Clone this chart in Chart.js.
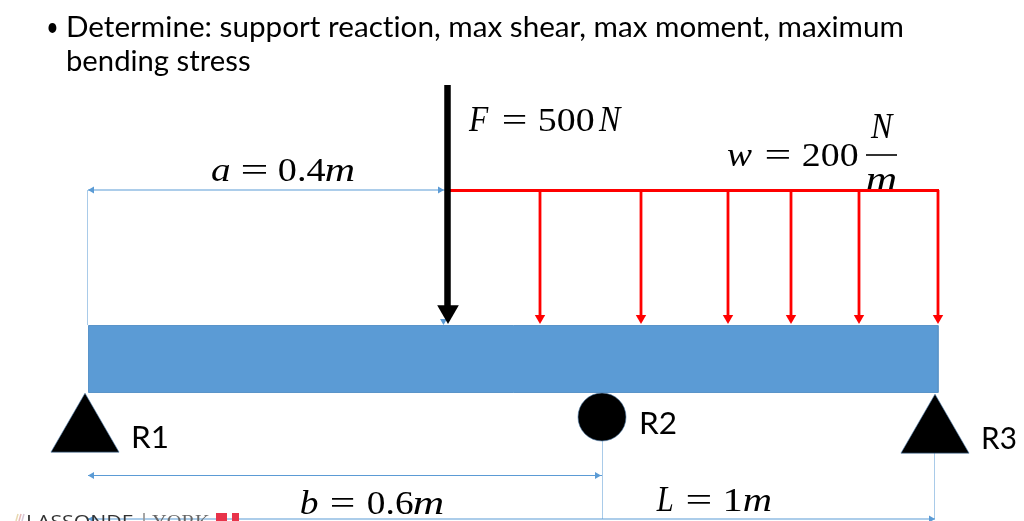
<!DOCTYPE html>
<html><head><meta charset="utf-8">
<style>html,body{margin:0;padding:0;background:#fff;overflow:hidden}canvas{display:block}</style>
<script src="https://cdn.jsdelivr.net/npm/chart.js@4"></script>
</head><body><canvas id="c" width="1024" height="521"></canvas>
<script>
// Positions, in diagram units
const beamX = [88.5, 938, 938, 88.5, 88.5];
const beamY = [325.5, 325.5, 392.5, 392.5, 325.5];
const forceX = [447.5, 447.5];
const forceY = [85, 310];
const forceHeadX = [448];
const forceHeadY = [311.5];
const loadLineX = [447, 939];
const loadLineY = [190.5, 190.5];
const loadArrowX = [540, 641, 728, 791, 859, 938];
const loadArrowTop = [190, 190, 190, 190, 190, 190];
const loadArrowBottom = [318, 318, 318, 318, 318, 318];
const triangleX = [85, 935];
const triangleY = [432.5, 433.5];
const rollerX = [602];
const rollerY = [417];
const dimAX = [88, 445];
const dimAY = [190, 190];
const dimBX = [88, 602];
const dimBY = [475.5, 475.5];
const dimLX = [88, 935];
const dimLY = [519, 519];
const extX = [87.5, 602.5, 934.5];
const extTop = [190, 441, 453];
const extBottom = [325, 519, 519];
const dimLeftHeadX = [92, 92, 92];
const dimLeftHeadY = [190, 475.5, 519];
const dimRightHeadX = [440, 597, 931];
const dimRightHeadY = [190, 475.5, 519];
const fracBarX = [866, 897];
const fracBarY = [155, 155];
const logoRedX = [221.5, 235.5];
const logoRedW = [11, 7];
const logoSepX = [144, 144];
const logoSepY = [513, 521];
const logoMarkX = [16, 19, 22];
const logoMarkColors = ['#e8d9b0', '#e6b8b8', '#d8c8d8'];

// Text pieces: [text, left, right, baseline, kind]
const headingTexts = [
  ['•', 48, 57, 36, 'bullet'],
  ['Determine: support reaction, max shear, max moment, maximum', 68, 902, 37, 'head'],
  ['bending stress', 68, 250, 71, 'head']
];
const supportTexts = [
  ['R1', 133, 167, 448, 'sup'],
  ['R2', 641, 676, 434, 'sup'],
  ['R3', 983, 1016, 449, 'sup']
];
const mathTexts = [
  ['a', 211, 230, 181, 'it'], ['=', 242, 266, 181, 'rm'], ['0.4', 279, 325, 181, 'rm'], ['m', 326, 354, 181, 'it'],
  ['F', 468, 489, 131, 'itL'], ['=', 503, 525, 131, 'rm'], ['500', 539, 594, 131, 'rm'], ['N', 598, 622, 131, 'itL'],
  ['w', 727, 752, 166, 'it'], ['=', 766, 789, 166, 'rm'], ['200', 803, 858, 166, 'rm'],
  ['N', 870, 894, 138, 'itL'], ['m', 867, 896, 189.5, 'it'],
  ['b', 301, 318, 514, 'it'], ['=', 331, 353, 514, 'rm'], ['0.6', 368, 413, 514, 'rm'], ['m', 414, 443, 514, 'it'],
  ['L', 656, 673, 511, 'itL'], ['=', 687, 710, 511, 'rm'], ['1', 725, 741, 511, 'rm'], ['m', 744, 771, 511, 'it']
];
const logoTexts = [
  ['LASSONDE', 27, 133, 528, 'logoA'],
  ['YORK', 152, 210, 528, 'logoB']
];

const zip = (xs, ys) => xs.map((x, i) => ({x, y: ys[i]}));
const line = (xs, ys, color, width, order) => ({type: 'scatter', showLine: true, data: zip(xs, ys),
  borderColor: color, borderWidth: width, pointRadius: 0, fill: false, order, tension: 0, borderCapStyle: 'butt'});
const heads = (xs, ys, color, r, rot, order, border, bw) => ({type: 'scatter', showLine: false, data: zip(xs, ys),
  pointStyle: 'triangle', pointRadius: r, pointRotation: rot, pointBackgroundColor: color,
  pointBorderColor: border || color, pointBorderWidth: bw || 0, order});

const RED = '#ff0000', BLUE = '#5b9bd5', PALE = '#a9cbe9';
const datasets = [];
// beam
datasets.push(Object.assign(line(beamX, beamY, '#5a94c9', 1, 9), {fill: 'shape', backgroundColor: BLUE}));
// extension lines
extX.forEach((x, i) => datasets.push(line([x, x], [extTop[i], extBottom[i]], PALE, 1, 8)));
// dimension lines
datasets.push(line(dimAX, dimAY, BLUE, 1.2, 7), line(dimBX, dimBY, BLUE, 1.2, 7), line(dimLX, dimLY, BLUE, 1.2, 7));
datasets.push(heads(dimLeftHeadX, dimLeftHeadY, BLUE, 4, 270, 6), heads(dimRightHeadX, dimRightHeadY, BLUE, 4, 90, 6));
datasets.push(heads([443.5], [321], BLUE, 4, 180, 6));
// logo marks
logoRedX.forEach((x, i) => datasets.push(line([x, x], [513, 521], '#e8334a', logoRedW[i], 6)));
datasets.push(line(logoSepX, logoSepY, '#999999', 1, 6));
logoMarkX.forEach((x, i) => datasets.push(line([x, x + 2], [521, 514], logoMarkColors[i], 1.5, 6)));
// distributed load
datasets.push(line(loadLineX, loadLineY, RED, 3, 4));
loadArrowX.forEach((x, i) => datasets.push(line([x, x], [loadArrowTop[i], loadArrowBottom[i]], RED, 2.8, 4)));
datasets.push(heads(loadArrowX, loadArrowBottom, RED, 6, 180, 4));
// concentrated force
datasets.push(line(forceX, forceY, '#000000', 6.5, 3), heads(forceHeadX, forceHeadY, '#000000', 12.5, 180, 3));
// supports
datasets.push(heads(triangleX, triangleY, '#000000', 39.3, 0, 2, '#4a78a8', 0.6));
datasets.push({type: 'scatter', showLine: false, data: zip(rollerX, rollerY), pointStyle: 'circle', pointRadius: 24,
  pointBackgroundColor: '#000000', pointBorderColor: '#4a78a8', pointBorderWidth: 0.6, order: 2});
// fraction bar
datasets.push(line(fracBarX, fracBarY, '#000000', 1.6, 1));

const fonts = {
  bullet: ['400 26px Lato', '#000000'],
  head: ['400 29px Lato', '#000000'],
  sup: ['400 31px Lato', '#000000'],
  it: ['italic 400 33px "Liberation Serif"', '#000000'],
  itL: ['italic 400 36px "Liberation Serif"', '#000000'],
  rm: ['400 33px "Liberation Serif"', '#000000'],
  logoA: ['400 19px "Open Sans"', '#333333'],
  logoB: ['400 19px "Liberation Serif"', '#666666']
};
const textPlugin = {
  id: 'texts',
  beforeDatasetsDraw(chart) {
    drawGroup(chart, mathTexts);
  },
  afterDatasetsDraw(chart) {
    drawGroup(chart, headingTexts.concat(supportTexts, logoTexts));
  }
};
function drawGroup(chart, list) {
  const {ctx, scales: {x: sx, y: sy}} = chart;
  list.forEach(([t, l, r, b, kind]) => {
    const [font, color] = fonts[kind];
    ctx.save();
    ctx.font = font; ctx.fillStyle = color; ctx.textBaseline = 'alphabetic'; ctx.textAlign = 'left';
    ctx.letterSpacing = '0.01px';
    const m = ctx.measureText(t);
    const inkW = m.actualBoundingBoxRight + m.actualBoundingBoxLeft;
    const px0 = sx.getPixelForValue(l), px1 = sx.getPixelForValue(r);
    const k = (px1 - px0) / inkW;
    ctx.translate(px0, sy.getPixelForValue(b));
    ctx.scale(k, 1);
    ctx.fillText(t, m.actualBoundingBoxLeft, 0);
    ctx.restore();
  });
}

new Chart(document.getElementById('c'), {
  type: 'scatter',
  data: {datasets},
  plugins: [textPlugin],
  options: {
    responsive: false, animation: false, devicePixelRatio: 1,
    layout: {padding: 0, autoPadding: false},
    plugins: {legend: {display: false}, tooltip: {enabled: false}},
    events: [],
    scales: {
      x: {type: 'linear', min: 0, max: 1024, display: false},
      y: {type: 'linear', min: 0, max: 521, reverse: true, display: false}
    }
  }
});
</script></body></html>
